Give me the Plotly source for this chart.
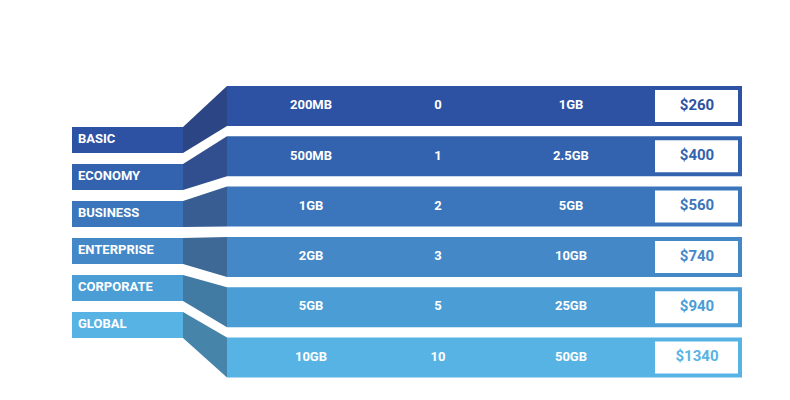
import plotly.graph_objects as go

plans = ["BASIC", "ECONOMY", "BUSINESS", "ENTERPRISE", "CORPORATE", "GLOBAL"]
storage = ["200MB", "500MB", "1GB", "2GB", "5GB", "10GB"]
accounts = ["0", "1", "2", "3", "5", "10"]
bandwidth = ["1GB", "2.5GB", "5GB", "10GB", "25GB", "50GB"]
prices = ["$260", "$400", "$560", "$740", "$940", "$1340"]

bar_colors = ["#2E52A3", "#3363AE", "#3B76BC", "#4588C8", "#4A9DD5", "#58B3E5"]
link_colors = ["#2C4585", "#314F8E", "#375D93", "#3E6996", "#417AA3", "#4784AA"]

FONT = "Roboto"
shapes = []
lab_x, lab_y, lab_t = [], [], []
col_x, col_y, col_t = [], [], []
pr_x, pr_y, pr_t, pr_c = [], [], [], []

for i, plan in enumerate(plans):
    lt, lb = 119 + 37 * i, 145 + 37 * i      # left label band
    rt, rb = 78 + 50.3 * i, 118 + 50.3 * i   # right row band
    shapes.append(dict(type="path", line_width=0, fillcolor=link_colors[i], layer="below",
                       path=f"M175,{lt} L219,{rt} L219,{rb} L175,{lb} Z"))
    shapes.append(dict(type="rect", x0=64, x1=175, y0=lt, y1=lb, line_width=0,
                       fillcolor=bar_colors[i], layer="below"))
    shapes.append(dict(type="rect", x0=219, x1=734, y0=rt, y1=rb, line_width=0,
                       fillcolor=bar_colors[i], layer="below"))
    shapes.append(dict(type="rect", x0=647, x1=730, y0=rt + 4, y1=rb - 4, line_width=0,
                       fillcolor="white", layer="below"))
    lab_x.append(70); lab_y.append((lt + lb) / 2); lab_t.append(plan)
    mid = (rt + rb) / 2
    for x, t in ((303, storage[i]), (430, accounts[i]), (563, bandwidth[i])):
        col_x.append(x); col_y.append(mid); col_t.append(t)
    pr_x.append(689); pr_y.append(mid); pr_t.append(prices[i]); pr_c.append(bar_colors[i])

fig = go.Figure()
fig.add_trace(go.Scatter(x=lab_x, y=lab_y, text=lab_t, mode="text", textposition="middle right",
                         textfont=dict(family=FONT, size=13, color="white", weight="bold"),
                         hoverinfo="skip"))
fig.add_trace(go.Scatter(x=col_x, y=col_y, text=col_t, mode="text", textposition="middle center",
                         textfont=dict(family=FONT, size=13, color="white", weight="bold"),
                         hoverinfo="skip"))
fig.add_trace(go.Scatter(x=pr_x, y=pr_y, text=pr_t, mode="text", textposition="middle center",
                         textfont=dict(family=FONT, size=15, color=pr_c, weight="bold"),
                         hoverinfo="skip"))

fig.update_layout(
    width=790, height=400, margin=dict(l=0, r=0, t=0, b=0),
    paper_bgcolor="white", plot_bgcolor="white", showlegend=False, shapes=shapes,
    xaxis=dict(range=[0, 790], visible=False, fixedrange=True),
    yaxis=dict(range=[400, 0], visible=False, fixedrange=True),
)
fig.write_html("out.html")
